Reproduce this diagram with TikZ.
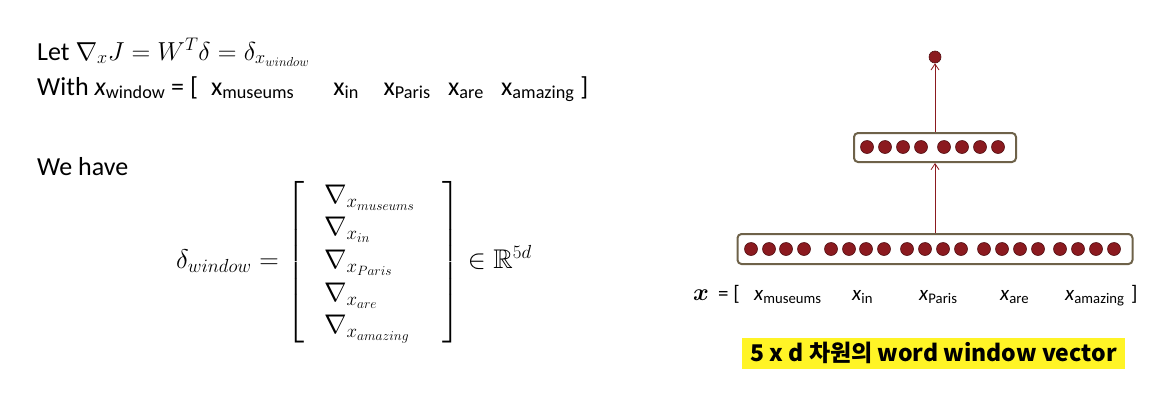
\RequirePackage{fix-cm}
\documentclass[tikz,border=0pt]{standalone}
\usepackage{amsmath,amssymb}
\usepackage[no-math]{fontspec}
\setmainfont{Carlito}
\newfontfamily\kr{Noto Sans CJK KR}
\usetikzlibrary{arrows.meta}
\definecolor{dotred}{HTML}{8B1A1F}
\definecolor{boxc}{HTML}{6E6249}
\newcommand{\tx}[2]{#1$_{\text{#2}}$}
\begin{document}
\begin{tikzpicture}[x=1pt,y=-1pt,
  dot/.style={circle,fill=dotred,draw=dotred!60!black,line width=0.6pt,minimum size=13pt,inner sep=0pt},
  layer/.style={draw=boxc,line width=2pt,rounded corners=4pt},
  arr/.style={draw=dotred,line width=0.8pt,-{Straight Barb[length=6pt,width=8pt]}},
  txt/.style={anchor=base west,inner sep=0pt,font=\fontsize{26}{30}\selectfont},
  lab/.style={anchor=base west,inner sep=0pt,font=\fontsize{21}{24}\selectfont}]
\useasboundingbox (0,0) rectangle (1170,418);
% left text
\node[txt] (let) at (37,60) {Let $\nabla_x J = W^T\delta = \delta_{x_{window}}$};
\node[txt] (with) at (37,95) {With \textit{x}$_{\text{window}}$ = [\; \tx{x}{museums}\quad\; \tx{x}{in}\;\;\, \tx{x}{Paris}\;\, \tx{x}{are}\;\, \tx{x}{amazing} ]};
\node[txt] (we) at (37,175) {We have};
\node[anchor=west,inner sep=0pt,font=\fontsize{27}{32}\selectfont] (delta) at (176,262)
 {$\delta_{window} = \left[\;\;\renewcommand{\arraystretch}{1.02}\begin{array}{l}\nabla_{x_{museums}}\\\nabla_{x_{in}}\\\nabla_{x_{Paris}}\\\nabla_{x_{are}}\\\nabla_{x_{amazing}}\end{array}\;\;\;\right]\in\mathbb{R}^{5d}$};
% network
\node[dot,minimum size=12pt] (top) at (935,57) {};
\node[layer,minimum width=162pt,minimum height=29pt] (mid) at (935,147.5) {};
\foreach \x [count=\i] in {867,885,903,921,944,962,980,998} \node[dot] (m\i) at (\x,147) {};
\node[layer,minimum width=395pt,minimum height=30pt] (bot) at (935,249) {};
\foreach \x [count=\i] in {751,769,786,804,831,849,866,884,907,925,943,961,984,1002,1020,1038,1060,1078,1096,1114} \node[dot] (b\i) at (\x,249) {};
\draw[arr] (bot.north) -- (mid.south);
\draw[arr] (mid.north) -- (top.south);
% labels
\node[lab,font=\fontsize{24}{26}\selectfont] (xb) at (693,300) {$\boldsymbol{x}$};
\node[lab] (eq) at (718,300) {= [};
\node[lab] (l1) at (754,300) {\textit{x}$_{\text{museums}}$};
\node[lab] (l2) at (852,300) {\textit{x}$_{\text{in}}$};
\node[lab] (l3) at (919,300) {\textit{x}$_{\text{Paris}}$};
\node[lab] (l4) at (1000,300) {\textit{x}$_{\text{are}}$};
\node[lab] (l5) at (1065,300) {\textit{x}$_{\text{amazing}}$};
\node[lab] (rb) at (1131,300) {]};
\node[fill=yellow!85!white,inner sep=0pt,minimum width=383pt,minimum height=31pt,font=\kr\bfseries\fontsize{23}{26}\selectfont] (cap) at (933.5,353) {5 x d 차원의 word window vector};
\end{tikzpicture}
\end{document}
